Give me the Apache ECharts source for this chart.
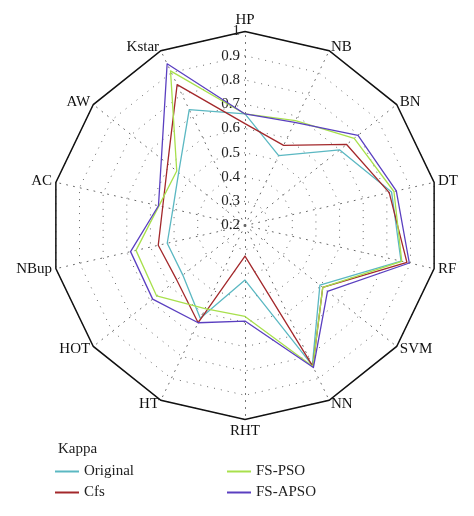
<!DOCTYPE html>
<html><head><meta charset="utf-8">
<script src="https://cdn.jsdelivr.net/npm/echarts@6/dist/echarts.min.js"></script>
<style>html,body{margin:0;padding:0;background:#fff}#c{width:474px;height:516px}</style>
</head><body><div id="c"></div>
<script>
// clockwise from top
const categories = ['HP','NB','BN','DT','RF','SVM','NN','RHT','HT','HOT','NBup','AC','AW','Kstar'];
const original = [0.66,0.52,0.70,0.82,0.86,0.595,0.84,0.425,0.625,0.528,0.529,0.505,0.55,0.73];
const cfs      = [0.62,0.567,0.736,0.81,0.885,0.61,0.845,0.326,0.645,0.56,0.567,0.548,0.608,0.845];
const fspso    = [0.66,0.68,0.776,0.83,0.863,0.61,0.845,0.575,0.58,0.666,0.661,0.564,0.56,0.908];
const fsapso   = [0.66,0.672,0.796,0.84,0.895,0.635,0.85,0.594,0.645,0.687,0.684,0.566,0.641,0.94];
const tickLabels = ['0.2','0.3','0.4','0.5','0.6','0.7','0.8','0.9','1'];

// ECharts radar places indicators counter-clockwise: reorder
function ccw(a){return [a[0]].concat(a.slice(1).reverse());}
const serif = 'Liberation Serif';
const center = [245, 225.5], radius = 194;
const ind = ccw(categories).map(n=>({name:n,min:0.2,max:1}));
const chart = echarts.init(document.getElementById('c'));
const colors = ['#5bb8c2','#a3282b','#a8e04c','#5a3fc0'];
chart.setOption({
  animation:false,
  color: colors,
  title:{text:'Kappa',left:53,top:437,textStyle:{fontFamily:serif,fontSize:15,fontWeight:'normal',color:'#222'}},
  legend:[
    {data:['Original','Cfs'],orient:'vertical',left:50,top:459,itemWidth:24,itemHeight:2,itemGap:6,
     icon:'rect',textStyle:{fontFamily:serif,fontSize:15,color:'#222'}},
    {data:['FS-PSO','FS-APSO'],orient:'vertical',left:222,top:459,itemWidth:24,itemHeight:2,itemGap:6,
     icon:'rect',textStyle:{fontFamily:serif,fontSize:15,color:'#222'}}
  ],
  polar:{center:center,radius:radius},
  angleAxis:{show:false,startAngle:90,min:0,max:360},
  radiusAxis:{min:0.2,max:1,interval:0.1,axisLine:{show:false},axisTick:{show:false},splitLine:{show:false},
    axisLabel:{show:true,fontFamily:serif,fontSize:15,color:'#222',margin:5,
      formatter:(v)=>{const i=Math.round((v-0.2)*10);return tickLabels[i]||'';}}},
  radar:[
    {center:center,radius:radius,startAngle:90,shape:'polygon',indicator:ind,splitNumber:8,
     axisName:{color:'#111',fontFamily:serif,fontSize:15},nameGap:4,
     splitArea:{show:false},
     axisLine:{lineStyle:{color:'#666',type:[1,6],width:1}},
     splitLine:{lineStyle:{color:'#666',type:[1,6],width:1}}},
    {center:center,radius:radius,startAngle:90,shape:'polygon',indicator:ind.map(o=>({name:'',min:0.2,max:1})),splitNumber:1,
     axisName:{show:false},splitArea:{show:false},axisLine:{show:false},
     splitLine:{lineStyle:{color:['#fff','#111'],width:1.5}}}
  ],
  series:[
    {type:'radar',radarIndex:0,symbol:'none',lineStyle:{width:1.3},
     data:[
      {name:'Original',value:ccw(original),lineStyle:{color:colors[0]},itemStyle:{color:colors[0]}},
      {name:'Cfs',value:ccw(cfs),lineStyle:{color:colors[1]},itemStyle:{color:colors[1]}},
      {name:'FS-PSO',value:ccw(fspso),lineStyle:{color:colors[2]},itemStyle:{color:colors[2]}},
      {name:'FS-APSO',value:ccw(fsapso),lineStyle:{color:colors[3]},itemStyle:{color:colors[3]}}
     ]}
  ]
});
</script></body></html>
